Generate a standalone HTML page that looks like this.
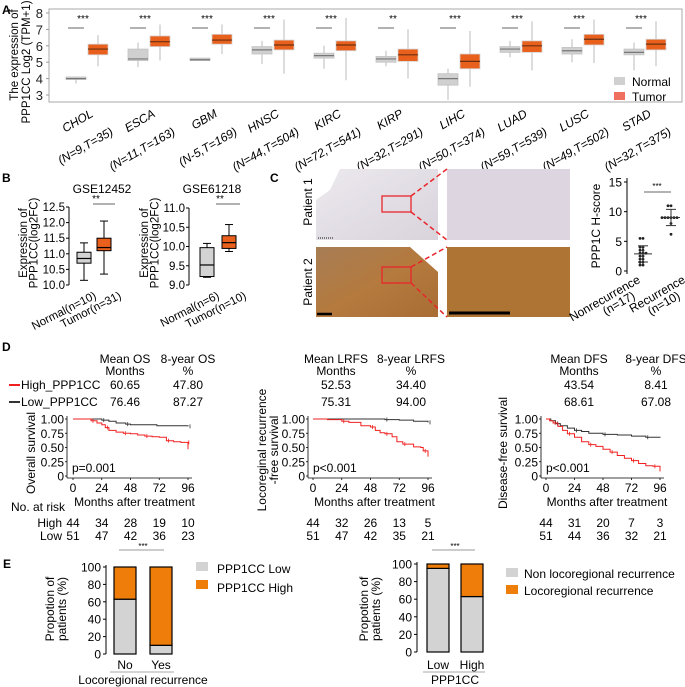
<!DOCTYPE html>
<html><head><meta charset="utf-8">
<style>
html,body{margin:0;padding:0;background:#fff;}
svg{display:block;font-family:"Liberation Sans",Arial,sans-serif;}
</style></head>
<body>
<svg id="fig" width="685" height="687" viewBox="0 0 685 687" xmlns="http://www.w3.org/2000/svg"></svg>
<script>
// ---------- DATA ----------
// Panel A
const catsA = ["CHOL","ESCA","GBM","HNSC","KIRC","KIRP","LIHC","LUAD","LUSC","STAD"];
const nLabelsA = ["(N=9,T=35)","(N=11,T=163)","(N-5,T=169)","(N=44,T=504)","(N=72,T=541)","(N=32,T=291)","(N=50,T=374)","(N=59,T=539)","(N=49,T=502)","(N=32,T=375)"];
const sigA = ["***","***","***","***","***","**","***","***","***","***"];
// [wmin,q1,med,q3,wmax]
const normalA = [[3.7,3.95,4.0,4.1,4.1],[4.7,5.1,5.2,5.8,6.2],[5.1,5.1,5.15,5.25,5.25],[4.9,5.5,5.75,5.95,6.3],[4.6,5.25,5.4,5.55,6.0],[4.75,5.0,5.2,5.35,5.7],[2.7,3.6,4.0,4.3,4.6],[5.3,5.6,5.8,5.95,6.3],[5.0,5.5,5.7,5.9,6.4],[4.5,5.45,5.6,5.8,6.2]];
const tumorA = [[4.75,5.45,5.8,6.1,6.65],[5.1,5.95,6.25,6.6,7.3],[5.5,6.1,6.35,6.7,7.3],[4.3,5.75,6.05,6.35,7.6],[3.9,5.7,6.05,6.3,7.7],[4.0,5.05,5.45,5.8,7.0],[3.5,4.6,5.05,5.5,6.9],[4.5,5.6,6.0,6.3,7.5],[4.95,6.05,6.4,6.7,7.6],[4.75,5.75,6.1,6.4,7.5]];
const ticksA = [3,4,5,6,7,8];
// Panel B
const b1Normal = [10.15,10.7,10.85,11.05,11.35];
const b1Tumor = [10.35,11.1,11.2,11.5,12.05];
const b1Ticks = [10.0,10.5,11.0,11.5,12.0,12.5];
const b2Normal = [9.2,9.22,9.52,9.97,10.08];
const b2Tumor = [9.87,9.95,10.1,10.28,10.57];
const b2Ticks = [9.0,9.5,10.0,10.5,11.0];
// Panel C scatter
const nonrecScores = [5.5,5.5,4,4,3.5,3.5,3,3,3,2.5,2.5,2,2,1.5,1.5,1,1];
const recScores = [11,11,9,9,9,9,9,9,8,6.2];
const cTicks = [0,5,10,15];
// Panel D
const kmTicks = [0,24,48,72,96];
const survTicks = [0,0.25,0.5,0.75,1.0];
const osHigh = [[12,1],[15,0.97],[20,0.93],[24,0.90],[27,0.85],[30,0.80],[36,0.77],[42,0.75],[48,0.74],[54,0.72],[60,0.70],[66,0.69],[72,0.68],[78,0.62],[84,0.60],[90,0.59],[95,0.59],[96,0.47]];
const osLow = [[12,1],[24,0.98],[30,0.96],[36,0.93],[44,0.91],[48,0.90],[70,0.88],[96,0.87]];
const lrfsHigh = [[12,0.99],[24,0.96],[30,0.94],[40,0.88],[48,0.86],[52,0.80],[56,0.76],[60,0.74],[66,0.69],[70,0.60],[75,0.56],[84,0.51],[90,0.50],[92,0.44],[96,0.34]];
const lrfsLow = [[48,1],[60,0.99],[72,0.98],[84,0.96],[96,0.94]];
const dfsHigh = [[3,0.97],[6,0.93],[10,0.87],[14,0.80],[18,0.74],[24,0.68],[30,0.60],[36,0.55],[42,0.52],[48,0.47],[54,0.42],[60,0.36],[66,0.31],[72,0.27],[78,0.22],[84,0.18],[90,0.17],[96,0.08]];
const dfsLow = [[4,0.97],[8,0.92],[12,0.88],[18,0.84],[24,0.80],[30,0.78],[36,0.75],[48,0.73],[60,0.72],[72,0.70],[84,0.68],[96,0.67]];
const riskOS = [[44,34,28,19,10],[51,47,42,36,23]];
const riskLRFS = [[44,32,26,13,5],[51,47,42,35,21]];
const riskDFS = [[44,31,20,7,3],[51,44,36,32,21]];
const statsOS = [["60.65","47.80"],["76.46","87.27"]];
const statsLRFS = [["52.53","34.40"],["75.31","94.00"]];
const statsDFS = [["43.54","8.41"],["68.61","67.08"]];
// Panel E
const e1Cats = ["No","Yes"];
const e1Low = [63,10];
const e2Cats = ["Low","High"];
const e2Non = [95,63];
const eTicks = [0,20,40,60,80,100];

// ---------- HELPERS ----------
const NS = "http://www.w3.org/2000/svg";
const svg = document.getElementById('fig');
function el(tag, attrs, name, parent){
  const e = document.createElementNS(NS, tag);
  for (const k in attrs) e.setAttribute(k, attrs[k]);
  
  
  (parent||svg).appendChild(e);
  return e;
}
function txt(x,y,s,name,opts){
  opts = opts||{};
  const a = {x:x,y:y,'font-size':opts.size||12,fill:opts.fill||'#000'};
  if(opts.anchor) a['text-anchor']=opts.anchor;
  if(opts.rot!==undefined) a.transform='rotate('+opts.rot+' '+x+' '+y+')';
  if(opts.weight) a['font-weight']=opts.weight;
  if(opts.style) a['font-style']=opts.style;
  const t = el('text', a, name, opts.parent);
  t.textContent = s;
  return t;
}
function line(x1,y1,x2,y2,stroke,w,name,parent,dash){
  const a={x1:x1,y1:y1,x2:x2,y2:y2,stroke:stroke,'stroke-width':w||1};
  if(dash) a['stroke-dasharray']=dash;
  return el('line',a,name,parent);
}
function lin(d0,d1,r0,r1){return v=>r0+(v-d0)*(r1-r0)/(d1-d0);}

// ---------- LETTERS ----------
txt(2,14,'A','panel-a-label',{size:12,weight:'bold'});
txt(2,182,'B','panel-b-label',{size:12,weight:'bold'});
txt(270,182,'C','panel-c-label',{size:12,weight:'bold'});
txt(2,351,'D','panel-d-label',{size:12,weight:'bold'});
txt(3,568,'E','panel-e-label',{size:12,weight:'bold'});

// ---------- PANEL A ----------
(function(){
  const g = el('g',{},'panel-a-boxplot');
  const y = lin(3,8,95,13);
  const cx = i => 87 + 62*i;
  el('rect',{x:49,y:9,width:633,height:93,fill:'none',stroke:'#aaa','stroke-width':1},'plot-frame',g);
  ticksA.forEach(t=>{
    txt(43,y(t)+5,String(t),'y-tick-label',{size:13,anchor:'end',parent:g,fill:'#222'});
    line(46,y(t),49,y(t),'#999',1,'y-tick',g);
  });
  txt(18,55,'The expression of','y-axis-title',{size:11.5,anchor:'middle',rot:-90,parent:g});
  txt(30,62,'PPP1CC Log2 (TPM+1)','y-axis-title',{size:11.5,anchor:'middle',rot:-90,parent:g});
  function box(x,d,fill,stroke,med,name){
    const w=20;
    line(x,y(d[0]),x,y(d[1]),'#bbb',1,name+'-whisker',g);
    line(x,y(d[3]),x,y(d[4]),'#bbb',1,name+'-whisker',g);
    el('rect',{x:x-w/2,y:y(d[3]),width:w,height:Math.max(1.5,y(d[1])-y(d[3])),fill:fill,stroke:stroke,'stroke-width':0.8},name,g);
    line(x-w/2,y(d[2]),x+w/2,y(d[2]),med,1.2,name+'-median',g);
  }
  catsA.forEach((c,i)=>{
    const x=cx(i);
    box(x-11,normalA[i],'#d0d0d0','#c2c2c2','#777','box-normal-'+c.toLowerCase());
    box(x+11,tumorA[i],'#e8601c','#d4d4d4','#6b3010','box-tumor-'+c.toLowerCase());
    txt(x-4,22,sigA[i],'significance-stars',{size:10,anchor:'middle',parent:g});
    line(x-19,28,x-3,28,'#666',1,'significance-line',g);
    txt(x+7,116,c,'x-tick-label',{size:12,anchor:'end',rot:-30,parent:g,style:'italic'});
    txt(x+27,134,nLabelsA[i],'x-tick-sublabel',{size:12,anchor:'end',rot:-30,parent:g,style:'italic'});
  });
  el('rect',{x:614,y:77,width:11,height:8,fill:'#d0d0d0'},'legend-normal-swatch',g);
  txt(632,86,'Normal','legend-normal-label',{size:12,parent:g});
  el('rect',{x:614,y:92,width:11,height:8,fill:'#f07060'},'legend-tumor-swatch',g);
  txt(632,101,'Tumor','legend-tumor-label',{size:12,parent:g});
})();

// ---------- PANEL B ----------
function panelB(ax,yTop,yBot,ticks,nData,tData,nX,tX,title,titleX,nLab,tLab,ylx,name){
  const g = el('g',{},name);
  const y = lin(ticks[0],ticks[ticks.length-1],yBot,yTop);
  line(ax,yTop,ax,yBot,'#000',1,'y-axis',g);
  ticks.forEach(t=>{
    line(ax-3,y(t),ax,y(t),'#000',1,'y-tick',g);
    txt(ax-4,y(t)+4,t.toFixed(1),'y-tick-label',{size:11.5,anchor:'end',parent:g});
  });
  function box(x,d,fill,nm){
    line(x,y(d[0]),x,y(d[1]),'#000',1,nm+'-whisker',g);
    line(x,y(d[3]),x,y(d[4]),'#000',1,nm+'-whisker',g);
    line(x-4,y(d[0]),x+4,y(d[0]),'#000',1,nm+'-cap',g);
    line(x-4,y(d[4]),x+4,y(d[4]),'#000',1,nm+'-cap',g);
    el('rect',{x:x-7,y:y(d[3]),width:14,height:y(d[1])-y(d[3]),fill:fill,stroke:'#000','stroke-width':1},nm,g);
    line(x-7,y(d[2]),x+7,y(d[2]),'#000',1.2,nm+'-median',g);
  }
  box(nX,nData,'#d3d3d3','box-normal');
  box(tX,tData,'#e8601c','box-tumor');
  txt(titleX,193,title,'chart-title',{size:12,anchor:'middle',parent:g});
  txt((nX+tX)/2+2,202,'**','significance-stars',{size:10,anchor:'middle',parent:g});
  line(nX+9,204,tX+11,204,'#666',1,'significance-line',g);
  txt(ylx,243,'Expression of','y-axis-title',{size:11.5,anchor:'middle',rot:-90,parent:g});
  txt(ylx+10.5,243,'PPP1CC(log2FC)','y-axis-title',{size:11.5,anchor:'middle',rot:-90,parent:g});
  txt(nX+13,298,nLab,'x-tick-label',{size:11.5,anchor:'end',rot:-27,parent:g});
  txt(tX+18,298,tLab,'x-tick-label',{size:11.5,anchor:'end',rot:-27,parent:g});
}
panelB(69,207,285,b1Ticks,b1Normal,b1Tumor,84,104,'GSE12452',102,'Normal(n=10)','Tumor(n=31)',27,'panel-b-gse12452');
panelB(189,208,285,b2Ticks,b2Normal,b2Tumor,207,229,'GSE61218',212,'Normal(n=6)','Tumor(n=10)',148,'panel-b-gse61218');

// ---------- PANEL C images ----------
(function(){
  const g = el('g',{},'panel-c-ihc');
  const defs = el('defs',{},'defs',g);
  const lg1 = el('linearGradient',{id:'p1',x1:0,y1:0,x2:1,y2:1},'gradient',defs);
  el('stop',{offset:0,'stop-color':'#ece9ee'},'stop',lg1);
  el('stop',{offset:1,'stop-color':'#d9d3dc'},'stop',lg1);
  const lg2 = el('linearGradient',{id:'p2',x1:0,y1:0,x2:1,y2:1},'gradient',defs);
  el('stop',{offset:0,'stop-color':'#a77d55'},'stop',lg2);
  el('stop',{offset:0.5,'stop-color':'#b47a3e'},'stop',lg2);
  el('stop',{offset:1,'stop-color':'#a96d33'},'stop',lg2);
  el('rect',{x:316,y:169,width:122,height:71,fill:'url(#p1)'},'patient1-overview-image',g);
  el('polygon',{points:'316,169 340,169 330,190 316,200',fill:'#ffffff'},'image-background',g);
  el('rect',{x:447,y:169,width:123,height:71,fill:'#ddd6e0'},'patient1-zoom-image',g);
  el('rect',{x:316,y:247,width:122,height:70,fill:'url(#p2)'},'patient2-overview-image',g);
  el('polygon',{points:'410,247 438,247 438,272',fill:'#ffffff'},'image-background',g);
  el('rect',{x:447,y:247,width:123,height:70,fill:'#ad7434'},'patient2-zoom-image',g);
  el('rect',{x:382,y:196,width:29,height:16,fill:'none',stroke:'#e8262b','stroke-width':1.3},'patient1-roi-box',g);
  el('rect',{x:382,y:267,width:29,height:16,fill:'none',stroke:'#e8262b','stroke-width':1.3},'patient2-roi-box',g);
  line(411,196,447,169,'#e8262b',1.5,'zoom-connector',g,'5,3');
  line(411,212,447,240,'#e8262b',1.5,'zoom-connector',g,'5,3');
  line(411,267,447,247,'#e8262b',1.5,'zoom-connector',g,'5,3');
  line(411,283,447,317,'#e8262b',1.5,'zoom-connector',g,'5,3');
  line(318,238,333,238,'#555',1.5,'scale-bar',g,'1,1');
  line(317,314,332,314,'#000',2.5,'scale-bar',g);
  line(449,313,510,313,'#000',3,'scale-bar',g);
  txt(312,202,'Patient 1','patient1-label',{size:12,anchor:'middle',rot:-90});
  txt(312,282,'Patient 2','patient2-label',{size:12,anchor:'middle',rot:-90});
})();

// ---------- PANEL C scatter ----------
(function(){
  const g = el('g',{},'panel-c-hscore');
  const y = lin(0,15,271,182);
  const ax = 627;
  line(ax,178,ax,274,'#000',1,'y-axis',g);
  cTicks.forEach(t=>{
    line(ax-3,y(t),ax,y(t),'#000',1,'y-tick',g);
    txt(ax-5,y(t)+4.5,String(t),'y-tick-label',{size:12,anchor:'end',parent:g});
  });
  txt(600,226,'PPP1C H-score','y-axis-title',{size:12,anchor:'middle',rot:-90,parent:g});
  function grp(vals,cx,nm){
    const seen={};
    vals.forEach(v=>{
      const k=v; seen[k]=(seen[k]||0)+1; const n=seen[k];
      const off = (n%2?1:-1)*Math.floor(n/2)*3;
      el('circle',{cx:cx+off,cy:y(v),r:1.4,fill:'#222'},nm+'-point',g);
    });
    const m = vals.reduce((a,b)=>a+b,0)/vals.length;
    const sd = Math.sqrt(vals.reduce((a,b)=>a+(b-m)*(b-m),0)/(vals.length-1));
    line(cx-9,y(m),cx+9,y(m),'#333',1,nm+'-mean',g);
    line(cx,y(m-sd),cx,y(m+sd),'#333',1,nm+'-error-bar',g);
    line(cx-5,y(m-sd),cx+5,y(m-sd),'#333',1,nm+'-error-cap',g);
    line(cx-5,y(m+sd),cx+5,y(m+sd),'#333',1,nm+'-error-cap',g);
  }
  grp(nonrecScores,643,'nonrecurrence');
  grp(recScores,671,'recurrence');
  txt(657,189,'***','significance-stars',{size:8,anchor:'middle',parent:g});
  line(644,192,671,192,'#666',1,'significance-line',g);
  txt(641,282,'Nonrecurrence','x-tick-label',{size:12,anchor:'end',rot:-30,parent:g});
  txt(636,298,'(n=17)','x-tick-label',{size:12,anchor:'end',rot:-30,parent:g});
  txt(686,282,'Recurrence','x-tick-label',{size:12,anchor:'end',rot:-30,parent:g});
  txt(681,298,'(n=10)','x-tick-label',{size:12,anchor:'end',rot:-30,parent:g});
})();

// ---------- PANEL D ----------
function km(x0,x96,axL,high,low,risk,stats,hdrA,hdrB,c1,c2,pTxt,ylab,ylx,name){
  const g = el('g',{},name);
  const x = lin(0,96,x0,x96);
  const y = lin(0,1,476,419);
  line(axL,416,axL,478,'#000',0.8,'y-axis',g);
  line(axL,478,x96+4,478,'#000',0.8,'x-axis',g);
  survTicks.forEach(t=>{
    const lab = t===0?'0':t.toFixed(2);
    line(axL-2,y(t),axL,y(t),'#000',0.8,'y-tick',g);
    txt(axL-3,y(t)+4.5,lab,'y-tick-label',{size:12,anchor:'end',parent:g});
  });
  kmTicks.forEach((t,i)=>{
    line(x(t),478,x(t),480,'#000',0.8,'x-tick',g);
    txt(x(t),492,String(t),'x-tick-label',{size:12,anchor:'middle',parent:g});
    txt(x(t),527,String(risk[0][i]),'risk-high-count',{size:12,anchor:'middle',parent:g});
    txt(x(t),540,String(risk[1][i]),'risk-low-count',{size:12,anchor:'middle',parent:g});
  });
  txt((x0+x96)/2+4,506,'Months after treatment','x-axis-title',{size:12,anchor:'middle',parent:g});
  function curve(pts,col,nm){
    let d='M'+x(0)+','+y(1);
    pts.forEach(p=>{ d+=' H'+x(p[0]).toFixed(1)+' V'+y(p[1]).toFixed(1); });
    el('path',{d:d,fill:'none',stroke:col,'stroke-width':1},nm,g);
    pts.forEach((p,i)=>{ if(i%3===1) line(x(p[0])+2,y(p[1])-2,x(p[0])+2,y(p[1])+2,col,0.8,nm+'-censor',g); });
  }
  curve(low,'#333','km-low-curve');
  curve(high,'#f02020','km-high-curve');
  txt(axL+5,472,pTxt,'p-value',{size:12,parent:g});
  txt(c1,363,hdrA,'header-mean',{size:12,anchor:'middle',parent:g});
  txt(c1,375,'Months','header-mean-unit',{size:12,anchor:'middle',parent:g});
  txt(c2,363,hdrB,'header-8year',{size:12,anchor:'middle',parent:g});
  txt(c2,375,'%','header-8year-unit',{size:12,anchor:'middle',parent:g});
  txt(c1,389,stats[0][0],'high-mean',{size:12,anchor:'middle',parent:g});
  txt(c2,389,stats[0][1],'high-8year',{size:12,anchor:'middle',parent:g});
  txt(c1,406,stats[1][0],'low-mean',{size:12,anchor:'middle',parent:g});
  txt(c2,406,stats[1][1],'low-8year',{size:12,anchor:'middle',parent:g});
  if(Array.isArray(ylab)){
    txt(ylx,450,ylab[0],'y-axis-title',{size:12,anchor:'middle',rot:-90,parent:g});
    txt(ylx+12,450,ylab[1],'y-axis-title',{size:12,anchor:'middle',rot:-90,parent:g});
  } else txt(ylx,453,ylab,'y-axis-title',{size:12,anchor:'middle',rot:-90,parent:g});
}
km(73,188,67,osHigh,osLow,riskOS,statsOS,'Mean OS','8-year OS',125,188,'p=0.001','Overall survival',35,'panel-d-os');
km(313,428,308,lrfsHigh,lrfsLow,riskLRFS,statsLRFS,'Mean LRFS','8-year LRFS',336,411,'p<0.001',['Locoreginal recurrence','-free survival'],266,'panel-d-lrfs');
km(546,660,541,dfsHigh,dfsLow,riskDFS,statsDFS,'Mean DFS','8-year DFS',579,656,'p<0.001','Disease-free survival',507,'panel-d-dfs');
line(9,385,20,385,'#f02020',2,'legend-high-line');
txt(21,389,'High_PPP1CC','legend-high-label',{size:12});
line(9,402,20,402,'#333',2,'legend-low-line');
txt(21,406,'Low_PPP1CC','legend-low-label',{size:12});
txt(11,511,'No. at risk','risk-table-title',{size:12});
txt(62,527,'High','risk-high-label',{size:12,anchor:'end'});
txt(62,540,'Low','risk-low-label',{size:12,anchor:'end'});

// ---------- PANEL E ----------
function stacked(ax,y100,y0,cats,lowVals,bx,bw,lowCol,highCol,xlab,ylx,name){
  const g = el('g',{},name);
  const y = lin(0,100,y0,y100);
  line(ax,y(100)-2,ax,y0,'#000',1,'y-axis',g);
  eTicks.forEach(t=>{
    line(ax-3,y(t),ax,y(t),'#000',1,'y-tick',g);
    txt(ax-5,y(t)+4.5,String(t),'y-tick-label',{size:12,anchor:'end',parent:g});
  });
  cats.forEach((c,i)=>{
    const x=bx[i];
    el('rect',{x:x,y:y(lowVals[i]),width:bw,height:y0-y(lowVals[i]),fill:lowCol,stroke:'#000','stroke-width':1.2},'bar-'+c.toLowerCase()+'-lower',g);
    el('rect',{x:x,y:y(100),width:bw,height:y(lowVals[i])-y(100),fill:highCol,stroke:'#000','stroke-width':1.2},'bar-'+c.toLowerCase()+'-upper',g);
    txt(x+bw/2,669,c,'x-tick-label',{size:12,anchor:'middle',parent:g});
  });
  const mid=(bx[0]+bx[1]+bw)/2;
  line(bx[0]-4,672,bx[1]+bw+2,672,'#aaa',1,'category-bracket',g);
  txt(mid,684,xlab,'x-axis-title',{size:12,anchor:'middle',parent:g});
  txt(mid,549,'***','significance-stars',{size:8,anchor:'middle',parent:g});
  line(bx[0]+5,550,bx[1]+bw-8,550,'#999',1,'significance-line',g);
  txt(ylx,609,'Propotion of','y-axis-title',{size:12,anchor:'middle',rot:-90,parent:g});
  txt(ylx+12,609,'patients (%)','y-axis-title',{size:12,anchor:'middle',rot:-90,parent:g});
}
stacked(106,567,654,e1Cats,e1Low,[114,150],22,'#d3d3d3','#ee7d0a','Locoregional recurrence',54,'panel-e-recurrence');
stacked(417,564,652,e2Cats,e2Non,[427,461],22,'#d3d3d3','#ee7d0a','PPP1CC',368,'panel-e-ppp1cc');
el('rect',{x:196,y:562,width:12,height:9,fill:'#d3d3d3'},'legend-low-swatch');
txt(217,573,'PPP1CC Low','legend-low-label',{size:12});
el('rect',{x:196,y:580,width:12,height:9,fill:'#ee7d0a'},'legend-high-swatch');
txt(217,592,'PPP1CC High','legend-high-label',{size:12});
el('rect',{x:506,y:568,width:12,height:9,fill:'#d3d3d3'},'legend-nonrecurrence-swatch');
txt(524,578,'Non locoregional recurrence','legend-nonrecurrence-label',{size:12});
el('rect',{x:506,y:585,width:12,height:9,fill:'#ee7d0a'},'legend-recurrence-swatch');
txt(524,595,'Locoregional recurrence','legend-recurrence-label',{size:12});
</script>
</body></html>
